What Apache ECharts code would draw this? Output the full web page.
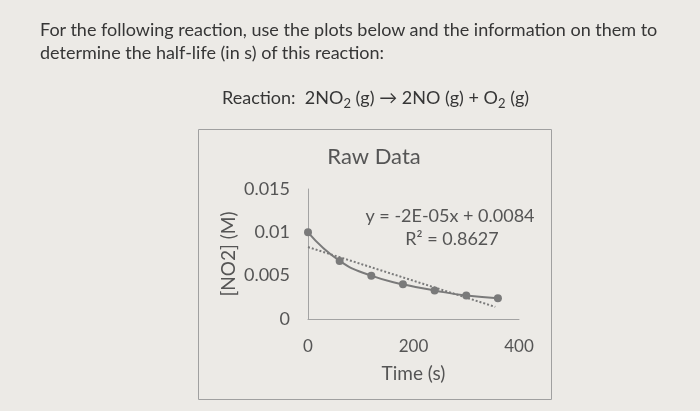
<!DOCTYPE html>
<html>
<head>
<meta charset="utf-8">
<script src="https://cdn.jsdelivr.net/npm/echarts@6/dist/echarts.min.js"></script>
<style>
  html, body { margin: 0; padding: 0; background: #eceae6; }
  #wrap { position: relative; width: 700px; height: 411px; overflow: hidden; }
  #main { position: absolute; left: 0; top: 0; width: 700px; height: 411px; }
  .q { position: absolute; font-family: Lato, sans-serif; font-size: 18px; color: #363636; line-height: 23px; white-space: nowrap; }
  .q sub { font-size: 13px; vertical-align: -4px; line-height: 0; }
</style>
</head>
<body>
<div id="wrap">
  <div id="main"></div>
  <div class="q" style="left:40px; top:18px;">For the following reaction, use the plots below and the information on them to<br>determine the half-life (in s) of this reaction:</div>
  <div class="q" style="left:222px; top:86px;">Reaction:&nbsp; 2NO<sub>2</sub> (g) &rarr; 2NO (g) + O<sub>2</sub> (g)</div>
</div>
<script>
// data
var times = [0, 60, 120, 180, 240, 300, 360];
var conc = [0.0100, 0.0067, 0.0050, 0.0040, 0.0033, 0.0027, 0.0024];
// dotted linear trendline, end points as drawn
var trendX = [0, 355];
var trendY = [0.0083, 0.0014];
var xTicks = [0, 200, 400];
var yTicks = [0, 0.005, 0.01, 0.015];
var eqLines = ['y = -2E-05x + 0.0084', 'R² = 0.8627'];

var grey = '#7a7a7a';
var txt = '#555555';

var myChart = echarts.init(document.getElementById('main'));
var option = {
  animation: false,
  textStyle: { fontFamily: 'Lato, sans-serif' },
  grid: { left: 308, right: 181, top: 189, bottom: 92 },
  xAxis: {
    type: 'value',
    min: xTicks[0],
    max: xTicks[xTicks.length - 1],
    interval: xTicks[1] - xTicks[0],
    name: 'Time (s)',
    nameLocation: 'middle',
    nameGap: 45,
    nameTextStyle: { fontSize: 19, color: txt },
    axisLine: { show: true, lineStyle: { color: '#a3a3a3', width: 1 } },
    axisTick: { show: false },
    splitLine: { show: false },
    axisLabel: { margin: 19, fontSize: 17, color: txt }
  },
  yAxis: {
    type: 'value',
    min: yTicks[0],
    max: yTicks[yTicks.length - 1],
    interval: yTicks[1] - yTicks[0],
    name: '[NO2] (M)',
    nameLocation: 'middle',
    nameRotate: 90,
    nameGap: 70,
    nameTextStyle: { fontSize: 19, color: txt },
    axisLine: { show: true, lineStyle: { color: '#a3a3a3', width: 1 } },
    axisTick: { show: false },
    splitLine: { show: false },
    axisLabel: { margin: 18, fontSize: 18, color: txt }
  },
  graphic: [
    { type: 'rect', shape: { x: 198.5, y: 129.5, width: 353, height: 270 },
      style: { fill: 'none', stroke: '#a0a0a0', lineWidth: 1 }, z: -1 },
    { type: 'text', x: 374, y: 157,
      style: { text: 'Raw Data', font: '22px Lato, sans-serif', fill: txt, textAlign: 'center', textVerticalAlign: 'middle' } },
    { type: 'text', x: 450, y: 216,
      style: { text: eqLines[0], font: '18px Lato, sans-serif', fill: txt, textAlign: 'center', textVerticalAlign: 'middle' } },
    { type: 'text', x: 452, y: 239,
      style: { text: eqLines[1], font: '18px Lato, sans-serif', fill: txt, textAlign: 'center', textVerticalAlign: 'middle' } }
  ],
  series: [
    {
      type: 'line',
      data: trendX.map(function (x, i) { return [x, trendY[i]]; }),
      symbol: 'none',
      lineStyle: { color: grey, width: 2, type: 'dotted' },
      z: 1
    },
    {
      type: 'line',
      data: times.map(function (t, i) { return [t, conc[i]]; }),
      smooth: true,
      symbol: 'circle',
      symbolSize: 8,
      itemStyle: { color: grey },
      lineStyle: { color: grey, width: 2 },
      z: 2
    }
  ]
};
myChart.setOption(option);
</script>
</body>
</html>
